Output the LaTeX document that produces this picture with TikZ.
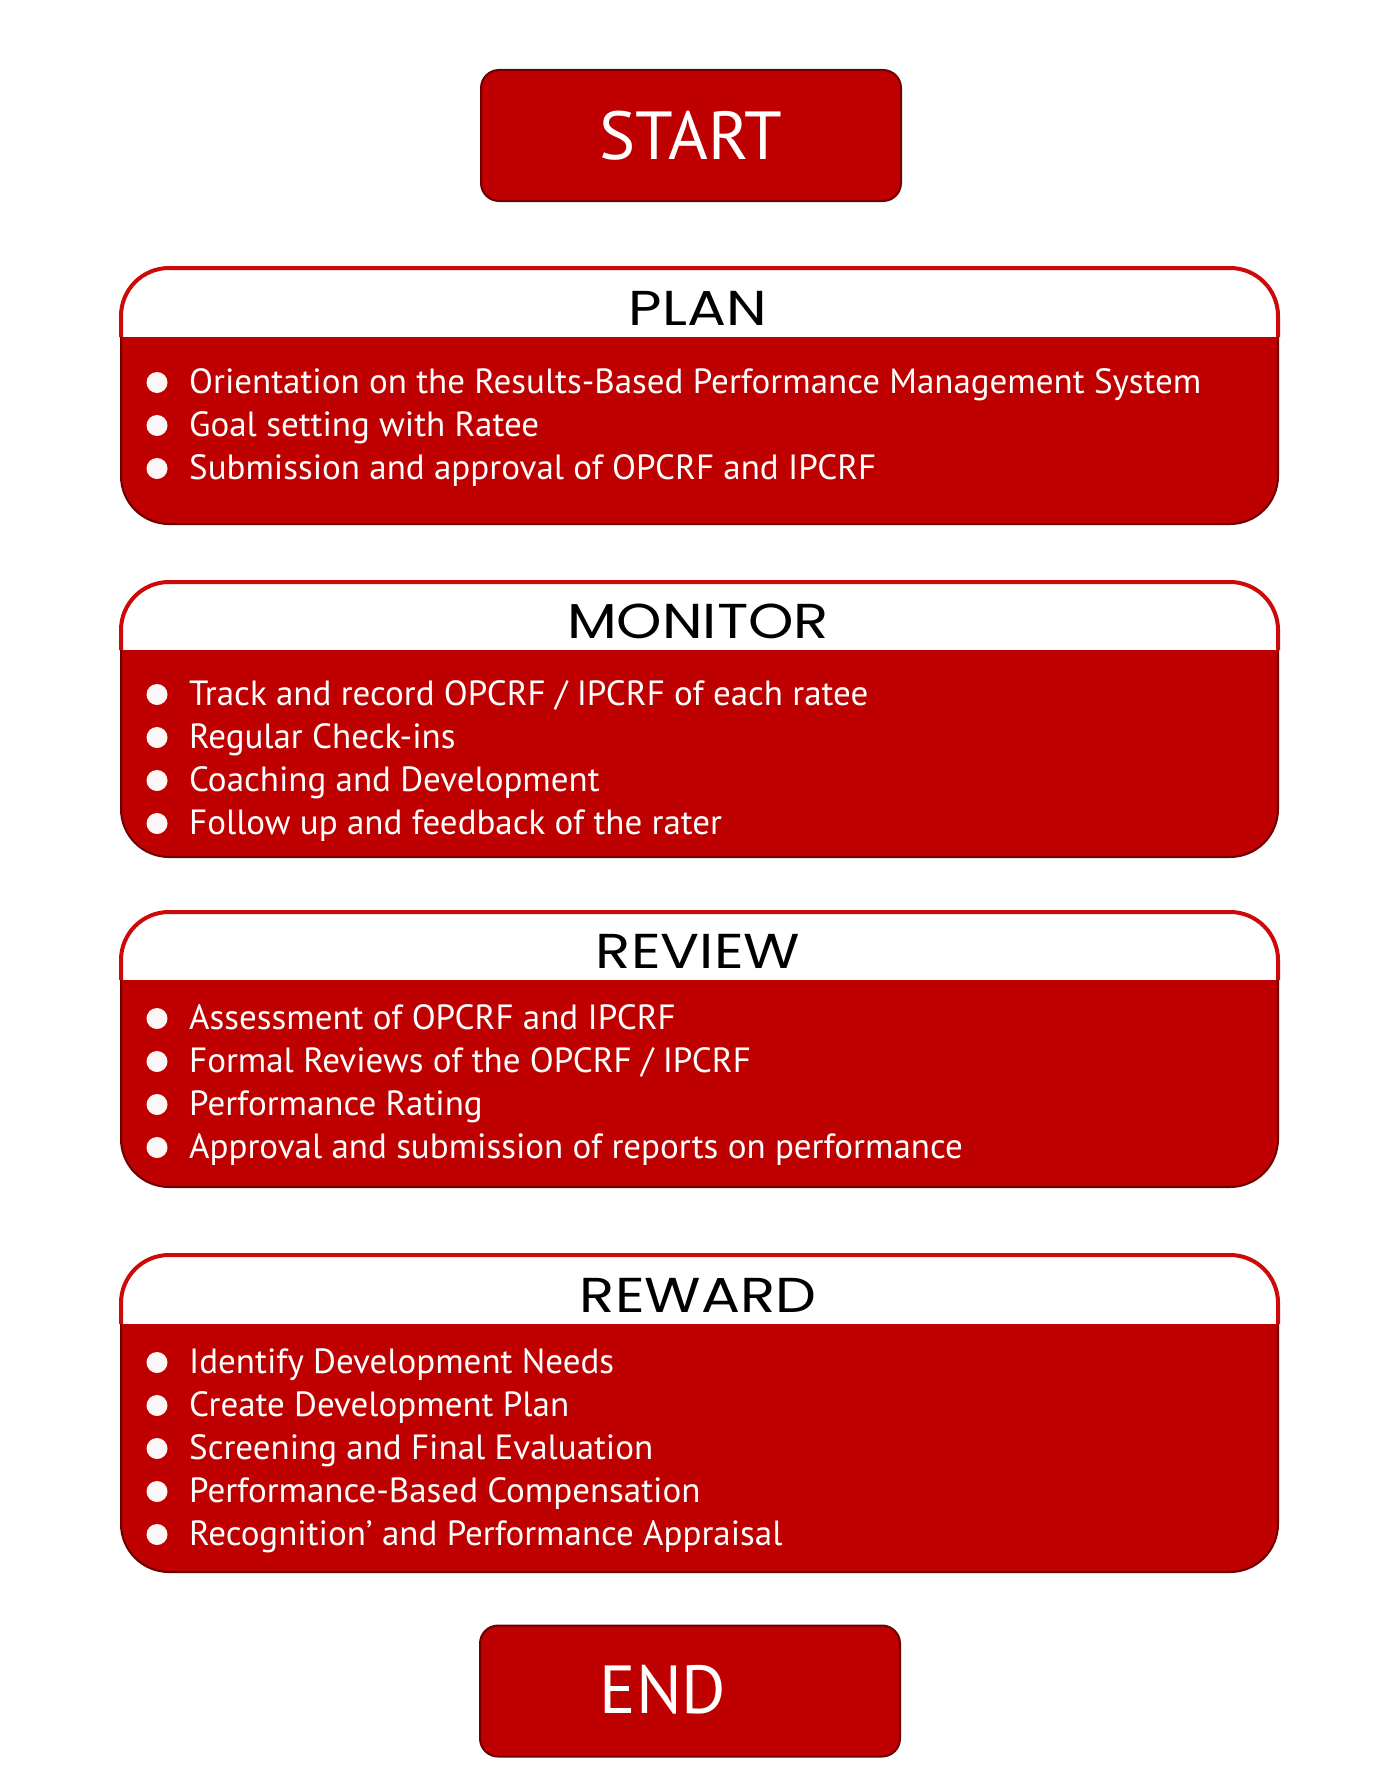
\documentclass[tikz,border=0pt]{standalone}
\usepackage{fontspec}
\setmainfont{PT Sans}
\newfontfamily\headfont[FakeStretch=1.18]{Poppins}
\definecolor{boxred}{RGB}{191,0,0}
\definecolor{rimred}{RGB}{204,10,10}
\definecolor{edgered}{RGB}{110,0,0}
\definecolor{dotwhite}{RGB}{252,246,246}
\newcommand\stagebox[5]{%
  \fill[white, rounded corners=48pt] (121,#3) |- (1278,#2) -- (1278,#3);
  \draw[rimred, line width=4pt, rounded corners=48pt] (121,#3) |- (1278,#2) -- (1278,#3);
  \fill[boxred, rounded corners=48pt] (121,#3) |- (1278,#4) -- (1278,#3);
  \draw[edgered, line width=2pt, rounded corners=48pt] (121,#3) |- (1278,#4) -- (1278,#3);
  \node[headtext] (#1) at (698,#3-12) {#5};
}
\begin{document}
\begin{tikzpicture}[x=1pt,y=-1pt,
  headtext/.style={anchor=base, inner sep=0pt, text=black, font=\headfont\fontsize{49}{56}\selectfont},
  itemtext/.style={anchor=base west, inner sep=0pt, text=white, font=\fontsize{35}{41}\selectfont},
  dotmark/.style={circle, fill=dotwhite, inner sep=0pt, minimum size=21pt},
  termbox/.style={draw=edgered, line width=2pt, fill=boxred, rounded corners=18pt,
    minimum width=420pt, minimum height=131pt, inner sep=0pt},
  termtext/.style={anchor=base, inner sep=0pt, text=white, font=\fontsize{68}{76}\selectfont}]
\useasboundingbox[fill=white] (0,0) rectangle (1379,1785);

% START
\node[termbox] (startbox) at (691,135.5) {};
\node[termtext] (starttxt) at (691,159) {START};

% PLAN
\stagebox{plan}{268}{337}{524}{PLAN}
\foreach \txt [count=\i, evaluate=\i as \yy using 393+43*(\i-1)] in
  {Orientation on the Results-Based Performance Management System,
   Goal setting with Ratee,
   Submission and approval of OPCRF and IPCRF}{
  \node[dotmark] (pdot\i) at (157,\yy-10.5) {};
  \node[itemtext] (pitem\i) at (189,\yy) {\txt};
}

% MONITOR
\stagebox{monitor}{582}{650}{857}{MONITOR}
\foreach \txt [count=\i, evaluate=\i as \yy using 705+43*(\i-1)] in
  {Track and record OPCRF / IPCRF of each ratee,
   Regular Check-ins,
   Coaching and Development,
   Follow up and feedback of the rater}{
  \node[dotmark] (mdot\i) at (157,\yy-10.5) {};
  \node[itemtext] (mitem\i) at (189,\yy) {\txt};
}

% REVIEW
\stagebox{review}{912}{980}{1187}{REVIEW}
\foreach \txt [count=\i, evaluate=\i as \yy using 1029+43*(\i-1)] in
  {Assessment of OPCRF and IPCRF,
   Formal Reviews of the OPCRF / IPCRF,
   Performance Rating,
   Approval and submission of reports on performance}{
  \node[dotmark] (rdot\i) at (157,\yy-10.5) {};
  \node[itemtext] (ritem\i) at (189,\yy) {\txt};
}

% REWARD
\stagebox{reward}{1255}{1324}{1572}{REWARD}
\foreach \txt [count=\i, evaluate=\i as \yy using 1373+43*(\i-1)] in
  {Identify Development Needs,
   Create Development Plan,
   Screening and Final Evaluation,
   Performance-Based Compensation,
   Recognition’ and Performance Appraisal}{
  \node[dotmark] (wdot\i) at (157,\yy-10.5) {};
  \node[itemtext] (witem\i) at (189,\yy) {\txt};
}

% END
\node[termbox] (endbox) at (690,1691) {};
\node[termtext] (endtxt) at (663,1713) {END};
\end{tikzpicture}
\end{document}
